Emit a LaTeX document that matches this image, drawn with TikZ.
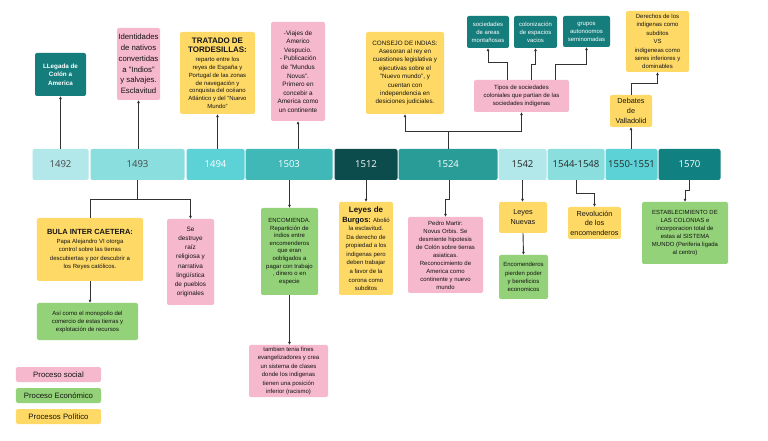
\documentclass[tikz,border=0pt]{standalone}
\usepackage{fontspec}
\setmainfont{Liberation Sans}
\newfontfamily\yrf{Open Sans}
\usetikzlibrary{arrows.meta}
\definecolor{cpink}{RGB}{245,184,204}
\definecolor{cyellow}{RGB}{255,217,102}
\definecolor{cgreen}{RGB}{147,210,120}
\definecolor{cteal}{RGB}{22,125,125}
\definecolor{tA}{RGB}{178,232,234}
\definecolor{tB}{RGB}{138,222,222}
\definecolor{tC}{RGB}{92,210,214}
\definecolor{tD}{RGB}{64,184,184}
\definecolor{tE}{RGB}{12,76,76}
\definecolor{tF}{RGB}{42,156,152}
\definecolor{tG}{RGB}{17,128,128}
\definecolor{linec}{RGB}{50,50,50}
\newcommand\fs[2]{\fontsize{#1}{#2}\selectfont}
\tikzset{
 box/.style={rounded corners=2bp, inner sep=0.5bp, align=center, text=black!92},
 pinkbox/.style={box, fill=cpink},
 yelbox/.style={box, fill=cyellow},
 grnbox/.style={box, fill=cgreen},
 tealbox/.style={box, fill=cteal, text=white},
 yr/.style={rounded corners=2bp, minimum height=31bp, inner sep=0pt, font=\yrf\fs{9.6}{11}},
 arr/.style={draw=linec, line width=0.9bp, -{Latex[length=3bp,width=3bp]}},
 ln/.style={draw=linec, line width=0.9bp},
}
\begin{document}
\begin{tikzpicture}[x=1bp,y=-1bp]
\useasboundingbox[fill=white] (0,0) rectangle (768,441);

% timeline
\node[yr, fill=tA, text=black!72, minimum width=56bp] (y1492) at (60.5,164.5) {1492};
\node[yr, fill=tB, text=black!72, minimum width=94bp] (y1493) at (137.5,164.5) {1493};
\node[yr, fill=tC, text=white, minimum width=58bp] (y1494) at (215.5,164.5) {1494};
\node[yr, fill=tD, text=white, minimum width=87bp] (y1503) at (289,164.5) {1503};
\node[yr, fill=tE, text=white, minimum width=63bp] (y1512) at (366,164.5) {1512};
\node[yr, fill=tF, text=white, minimum width=99bp] (y1524) at (448,164.5) {1524};
\node[yr, fill=tA, text=black!85, minimum width=48bp] (y1542) at (522.5,164.5) {1542};
\node[yr, fill=tB, text=black!85, minimum width=57bp] (y1544) at (576,164.5) {1544-1548};
\node[yr, fill=tC, text=black!85, minimum width=52bp] (y1550) at (631.5,164.5) {1550-1551};
\node[yr, fill=tG, text=white, minimum width=62bp] (y1570) at (689.5,164.5) {1570};

% top boxes
\node[tealbox, minimum width=51bp, minimum height=43bp, font=\bfseries\fs{6.3}{8.5}] (colon) at (60.5,74.5) {LLegada de\\Colón a\\America};
\node[pinkbox, minimum width=43bp, minimum height=72bp, font=\fs{7.8}{10.8}] (ident) at (138.5,64) {Identidades\\de nativos\\convertidas\\a "Indios"\\y salvajes.\\Esclavitud};
\node[yelbox, minimum width=75bp, minimum height=82bp, font=\fs{6}{7.8}] (tord) at (217.5,73) {{\bfseries\fs{8}{10}TRATADO DE}\\[2pt]{\bfseries\fs{8}{10}TORDESILLAS:}\\[1pt]reparto  entre los\\reyes de España y\\Portugal de las zonas\\de navegación y\\conquista del océano\\Atlántico y del "Nuevo\\Mundo"};
\node[pinkbox, minimum width=54bp, minimum height=99bp, font=\fs{6.4}{8.6}] (viajes) at (298,71.5) {-Viajes de\\Americo\\Vespucio.\\- Publicación\\de "Mundus\\Novus".\\Primero en\\concebir a\\America como\\un continente};
\node[yelbox, minimum width=78bp, minimum height=82bp, font=\fs{6.3}{8.4}] (consejo) at (405,73) {CONSEJO DE INDIAS:\\Asesoran al rey en\\cuestiones legislativa y\\ejecutivas sobre el\\"Nuevo mundo", y\\cuentan con\\independencia en\\desiciones judiciales.};
\node[tealbox, minimum width=42bp, minimum height=32bp, font=\fs{6}{8}] (soc1) at (488,32) {sociedades\\de areas\\montañosas};
\node[tealbox, minimum width=43bp, minimum height=32bp, font=\fs{6}{8}] (soc2) at (535.5,32) {colonización\\de espacios\\vacios};
\node[tealbox, minimum width=47bp, minimum height=31bp, font=\fs{6}{8}] (soc3) at (586.5,31.5) {grupos\\autonoomos\\seminomadas};
\node[pinkbox, minimum width=95bp, minimum height=32bp, font=\fs{6}{8}] (tipos) at (521.5,96) {Tipos de sociedades\\coloniales que partian de las\\sociedades indigenas};
\node[yelbox, minimum width=42bp, minimum height=32bp, font=\fs{7.3}{9.8}] (debates) at (631,111) {Debates\\de\\Valladolid};
\node[yelbox, minimum width=63bp, minimum height=61bp, font=\fs{6}{8.4}] (derechos) at (657.5,41.5) {Derechos de los\\indigenas como\\subditos\\VS\\indigeneas como\\seres inferiores y\\dominables};

% bottom boxes
\node[yelbox, minimum width=106bp, minimum height=63bp, font=\fs{6}{8.4}] (bula) at (90,249.5) {{\bfseries\fs{7.5}{9.5}BULA INTER CAETERA:}\\[1pt]Papa  Alejandro VI otorga\\control sobre las tierras\\descubiertas y por descubrir a\\los Reyes católicos.};
\node[pinkbox, minimum width=47bp, minimum height=86bp, font=\fs{6.4}{9.2}] (destruye) at (190.5,262) {Se\\destruye\\raíz\\religiosa y\\narrativa\\lingüística\\de pueblos\\originales};
\node[grnbox, minimum width=101bp, minimum height=37bp, font=\fs{6}{8}] (asi) at (87.5,321.5) {Así como  el monopolio del\\comercio de estas tierras y\\explotación de recursos};
\node[grnbox, minimum width=57bp, minimum height=87bp, font=\fs{6}{7.6}] (enco) at (289.5,251.5) {ENCOMIENDA.\\Repartición de\\indios  entre\\encomenderos\\que eran\\oobligados a\\pagar con trabajo\\, dinero o en\\especie};
\node[pinkbox, minimum width=79bp, minimum height=52bp, font=\fs{6}{8.4}] (tamb) at (288.5,371) {tambien tenia fines\\evangelizadores y crea\\un sistema de clases\\donde los indigenas\\tienen una posición\\inferior (racismo)};
\node[yelbox, minimum width=54bp, minimum height=93bp, font=\fs{6}{8.6}] (burgos) at (366,248.5) {{\bfseries\fs{8}{10}Leyes de}\\[1.5pt]{\bfseries\fs{7.5}{9}Burgos:} Abolió\\la esclavitud.\\Da derecho de\\propiedad a los\\indigenas pero\\deben trabajar\\a favor de la\\corona como\\subditos};
\node[pinkbox, minimum width=75bp, minimum height=76bp, font=\fs{6}{8}] (pedro) at (445.5,255) {Pedro Martir:\\Novus Orbis. Se\\desmiente hipotesis\\de Colón sobre tierras\\asiaticas.\\Reconocimiento de\\America como\\continente y nuevo\\mundo};
\node[yelbox, minimum width=48bp, minimum height=31bp, font=\fs{7.3}{10}] (nuevas) at (523,217.5) {Leyes\\Nuevas};
\node[grnbox, minimum width=49bp, minimum height=44bp, font=\fs{6}{8.2}] (pierden) at (523.5,277) {Encomenderos\\pierden poder\\y  beneficios\\economicos};
\node[yelbox, minimum width=53bp, minimum height=32bp, font=\fs{7.3}{9.6}] (revol) at (594.5,223) {Revolución\\de los\\encomenderos};
\node[grnbox, minimum width=86bp, minimum height=62bp, font=\fs{6}{8.2}] (estab) at (685,233) {ESTABLECIMIENTO DE\\LAS COLONIAS e\\incorporacion total de\\estas al SISTEMA\\MUNDO  (Periferia ligada\\al centro)};

% legend
\node[pinkbox, minimum width=85bp, minimum height=15bp, font=\fs{7.8}{9}] (leg1) at (58.5,374.5) {Proceso  social};
\node[grnbox, minimum width=85bp, minimum height=15bp, font=\fs{7.8}{9}] (leg2) at (58.5,395.5) {Proceso Económico};
\node[yelbox, minimum width=85bp, minimum height=15bp, font=\fs{7.8}{9}] (leg3) at (58.5,416.5) {Procesos Político};

% connectors top
\draw[arr] (y1492.north -| colon.south) -- (colon.south);
\draw[arr] (y1493.north -| ident.south) -- (ident.south);
\draw[arr] (y1494.north -| tord.south) -- (tord.south);
\draw[arr] (y1503.north -| viajes.south) -- (viajes.south);
\coordinate (j1) at (448,131);
\draw[ln] (y1524.north) -- (j1);
\draw[arr] (j1) -| (consejo.south);
\draw[arr] (j1) -| (tipos.south);
\draw[arr] ([xshift=-14.5bp]tipos.north) -- ++(0,-17) -| (soc1.south);
\draw[arr] ([xshift=9.5bp]tipos.north) -- ++(0,-15) -| (soc2.south);
\draw[arr] ([xshift=33.5bp]tipos.north) -- ++(0,-15) -| (soc3.south);
\draw[arr] (y1550.north -| debates.south) -- (debates.south);
\draw[arr] (debates.north) -- ++(0,-11) -| (derechos.south);

% connectors bottom
\coordinate (j2) at (137.5,199);
\draw[ln] (y1493.south) -- (j2);
\draw[ln] (j2) -| (bula.north);
\draw[arr] (j2) -| (destruye.north);
\draw[arr] (bula.south) -- (bula.south |- asi.north);
\draw[arr] (y1503.south -| enco.north) -- (enco.north);
\draw[arr] (enco.south) -- (enco.south |- tamb.north);
\draw[arr] (y1512.south) -- (y1512.south |- burgos.north);
\draw[arr] ([xshift=1bp]y1524.south) -- ++(0,19) -| (pedro.north);
\draw[arr] (y1542.south) -- (y1542.south |- nuevas.north);
\draw[arr] (nuevas.south) -- (pierden.north);
\draw[arr] (y1544.south) -- ++(0,13) -| (revol.north);
\draw[arr] (y1570.south) -- ++(0,10) -| (estab.north);
\end{tikzpicture}
\end{document}
